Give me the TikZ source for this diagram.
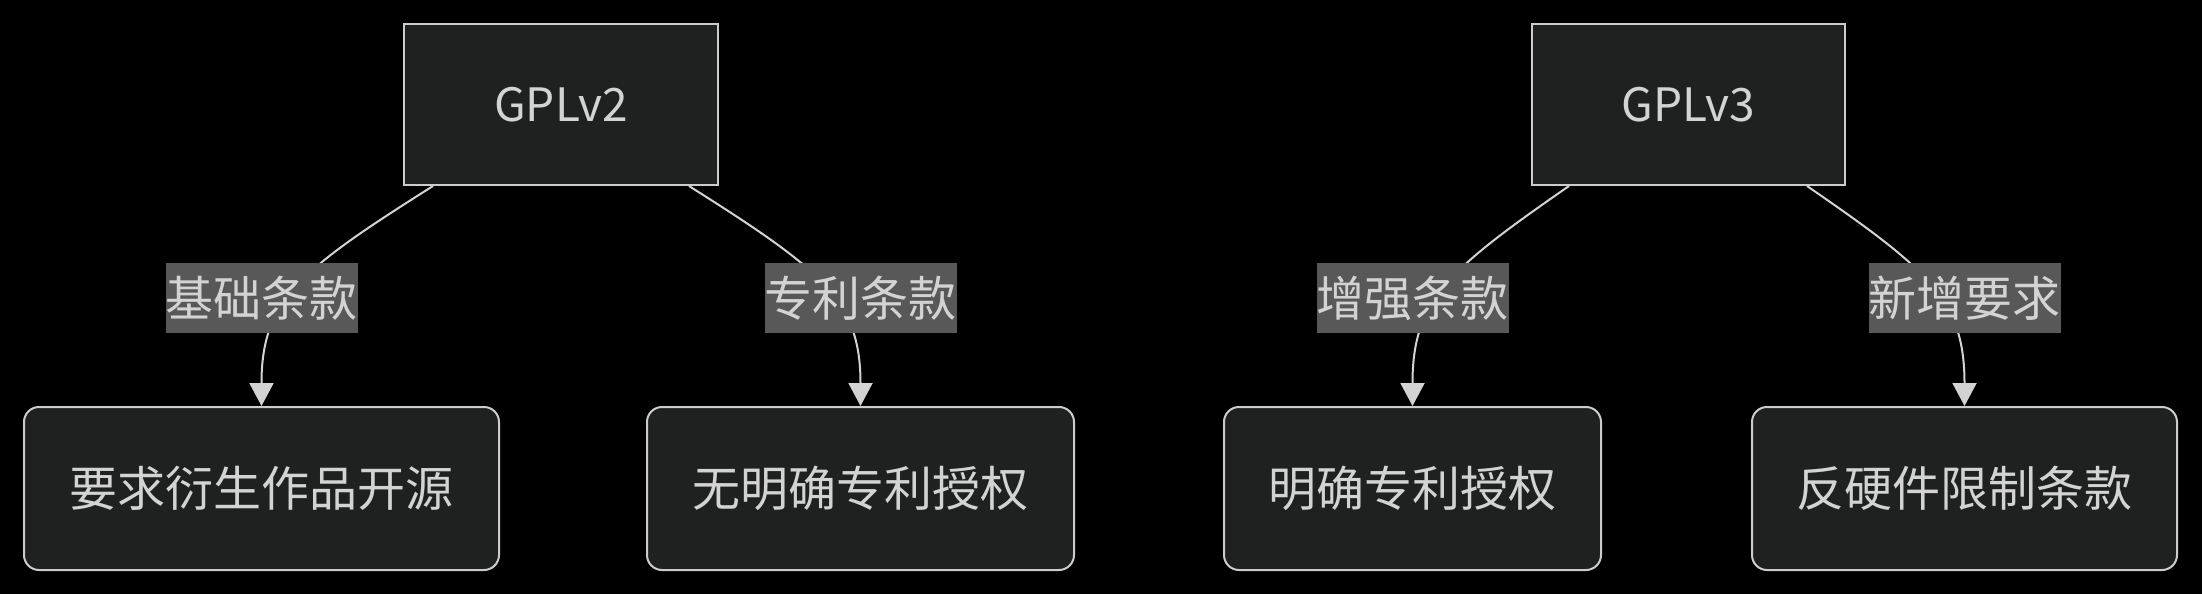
\documentclass[tikz,border=0pt]{standalone}
\usepackage{fontspec}
\setmainfont{Noto Sans CJK SC}
\usetikzlibrary{arrows.meta}
\definecolor{bgc}{HTML}{000000}
\definecolor{boxfill}{HTML}{1F2020}
\definecolor{boxline}{HTML}{CCCCCC}
\definecolor{txt}{HTML}{D3D3D3}
\definecolor{lblbg}{HTML}{585858}
\definecolor{edgec}{HTML}{D3D3D3}
\tikzset{
  topbox/.style={draw=boxline, fill=boxfill, line width=1pt, text=txt, inner sep=0pt,
    minimum height=80.5pt, font=\fontsize{23}{28}\selectfont},
  leafbox/.style={draw=boxline, fill=boxfill, line width=1pt, text=txt, inner sep=0pt,
    rounded corners=7.5pt, minimum height=81.5pt, font=\fontsize{24}{28}\selectfont},
  elabel/.style={fill=lblbg, text=txt, inner sep=0pt, minimum width=95.5pt, minimum height=35pt,
    font=\fontsize{24}{28}\selectfont},
  edge/.style={draw=edgec, line width=1pt, -{Triangle[length=11.5pt,width=12pt]}}
}
\begin{document}
\begin{tikzpicture}[x=0.5pt,y=-0.5pt]
\fill[bgc] (0,0) rectangle (2202,594);
\useasboundingbox (0,0) rectangle (2202,594);
% top nodes
\node[topbox, minimum width=157pt] (g2) at (561,104.5) {GPLv2};
\node[topbox, minimum width=156.5pt] (g3) at (1688.5,104.5) {GPLv3};
% leaf nodes
\node[leafbox, minimum width=237.5pt] (b1) at (261.5,488.5) {要求衍生作品开源};
\node[leafbox, minimum width=213.5pt] (b2) at (860.5,488.5) {无明确专利授权};
\node[leafbox, minimum width=188.5pt] (b3) at (1412.5,488.5) {明确专利授权};
\node[leafbox, minimum width=212.5pt] (b4) at (1964.5,488.5) {反硬件限制条款};
% start points
\path (g2.south west) ++(30,0) coordinate (s1);
\path (g2.south east) ++(-30,0) coordinate (s2);
\path (g3.south west) ++(38,0) coordinate (s3);
\path (g3.south east) ++(-39,0) coordinate (s4);
% edges
\draw[edge] (s1) .. controls (300,270) and (261.5,300) .. (b1.north);
\draw[edge] (s2) .. controls (822,270) and (860.5,300) .. (b2.north);
\draw[edge] (s3) .. controls (1448,270) and (1412.5,300) .. (b3.north);
\draw[edge] (s4) .. controls (1929,270) and (1964.5,300) .. (b4.north);
% edge labels
\node[elabel] (l1) at (261.5,298) {基础条款};
\node[elabel] (l2) at (860.5,298) {专利条款};
\node[elabel] (l3) at (1412.5,298) {增强条款};
\node[elabel] (l4) at (1964.5,298) {新增要求};
\end{tikzpicture}
\end{document}
